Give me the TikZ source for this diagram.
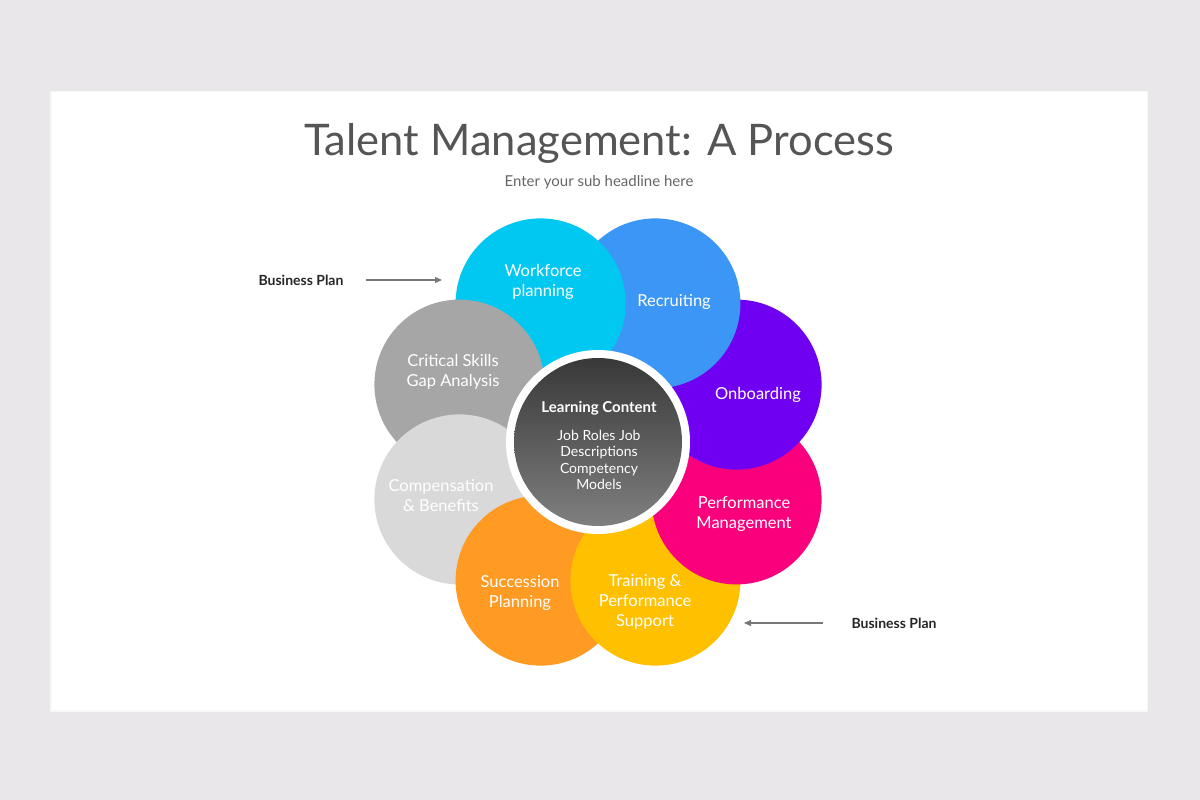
\documentclass[tikz,border=0pt]{standalone}
\usepackage{fontspec}
\setmainfont{Lato}
\usetikzlibrary{arrows.meta,shadings}
\definecolor{bgC}{HTML}{E9E7E9}
\definecolor{cyanC}{HTML}{00C8F0}
\definecolor{blueC}{HTML}{3C96F5}
\definecolor{purpleC}{HTML}{7000F2}
\definecolor{magentaC}{HTML}{FA007D}
\definecolor{yellowC}{HTML}{FFC000}
\definecolor{orangeC}{HTML}{FF9A22}
\definecolor{lgrayC}{HTML}{D9D9D9}
\definecolor{dgrayC}{HTML}{A6A6A6}
\definecolor{titleC}{HTML}{555555}
\definecolor{arrowC}{HTML}{787878}
\tikzset{
  petal/.style={circle,minimum size=170pt,inner sep=0pt,draw=none},
  plabel/.style={text=white,align=center,font=\fontsize{16.5}{20}\selectfont},
  ilabel/.style={text=white,align=center,font=\fontsize{14}{16.5}\selectfont},
  bplan/.style={text=black!85,font=\bfseries\fontsize{14}{16}\selectfont},
  bparrow/.style={draw=arrowC,line width=1.2pt,-{Triangle[length=7pt,width=6pt]}}
}
\begin{document}
\begin{tikzpicture}[x=1pt,y=-1pt]
\useasboundingbox (0,0) rectangle (1200,800);
\fill[bgC] (0,0) rectangle (1200,800);
\fill[black!3] (50,91) rectangle (1148,712);
\fill[white] (52,92) rectangle (1147,710);
% title
\node[text=titleC,font=\fontsize{43.5}{50}\selectfont] (title) at (599,143) {Talent Management: A Process};
\node[text=titleC!90,font=\fontsize{15}{18}\selectfont] (sub) at (599,182) {Enter your sub headline here};
% petals (each one over the next clockwise)
\node[petal,fill=dgrayC] (cs) at (459.4,384.6) {};
\node[petal,fill=lgrayC] (cb) at (459.4,499.4) {};
\node[petal,fill=orangeC] (sp) at (540.6,580.6) {};
\node[petal,fill=yellowC] (tp) at (655.4,580.6) {};
\node[petal,fill=magentaC] (pm) at (736.6,499.4) {};
\node[petal,fill=purpleC] (ob) at (736.6,384.6) {};
\node[petal,fill=blueC] (rc) at (655.4,303.4) {};
\node[petal,fill=cyanC] (wf) at (540.6,303.4) {};
\begin{scope}
  \clip (wf.center) circle (87pt);
  \fill[dgrayC] (cs.center) circle (85pt);
\end{scope}
% centre
\node[circle,fill=white,minimum size=184pt,inner sep=0pt] (ring) at (598,442) {};
\node[circle,minimum size=168pt,inner sep=0pt,top color=black!78,bottom color=black!50] (core) at (598,442) {};
% labels
\node[plabel] (lwf) at (543,282) {Workforce\\planning};
\node[plabel] (lrc) at (674,302) {Recruiting};
\node[plabel] (lob) at (758,395) {Onboarding};
\node[plabel] (lpm) at (744,514) {Performance\\Management};
\node[plabel] (ltp) at (645,602) {Training \&\\Performance\\Support};
\node[plabel] (lsp) at (520,593) {Succession\\Planning};
\node[plabel] (lcb) at (441,496) {Compensation\\\& Benefits};
\node[plabel] (lcs) at (453,372) {Critical Skills\\Gap Analysis};
\node[ilabel,font=\bfseries\fontsize{15}{16}\selectfont] (lc) at (599,408) {Learning Content};
\node[ilabel] (lcbody) at (599,460) {Job Roles Job\\Descriptions\\Competency\\Models};
% business plan arrows
\node[bplan] (bp1) at (301,280) {Business Plan};
\node[bplan] (bp2) at (894,623) {Business Plan};
\coordinate (a1s) at (366,280);
\coordinate (a1e) at (442,280);
\coordinate (a2s) at (823,623);
\coordinate (a2e) at (744,623);
\draw[bparrow] (a1s) -- (a1e);
\draw[bparrow] (a2s) -- (a2e);
\end{tikzpicture}
\end{document}
